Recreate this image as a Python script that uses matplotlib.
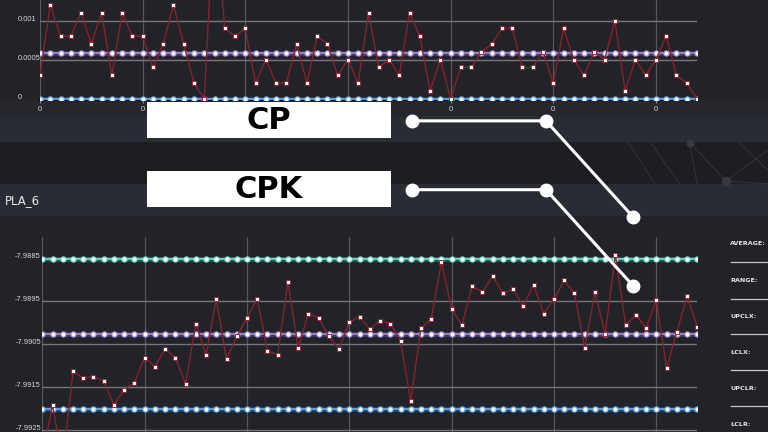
import matplotlib
matplotlib.use("Agg")
import matplotlib.pyplot as plt
from matplotlib.patches import Rectangle
from matplotlib.lines import Line2D
import matplotlib.transforms as mtransforms
import numpy as np

# ---- data ----
n_points = 65
top_values = [3, 12, 8, 8, 11, 7, 11, 3, 11, 8, 8, 4, 7, 12, 7, 2, 0, 25, 9, 8, 9, 2, 5, 2,
              2, 7, 2, 8, 7, 3, 5, 2, 11, 4,
              5, 3, 11, 8, 1, 5, 0, 4, 4, 6, 7, 9, 9, 4, 4, 6, 2, 9, 5, 3, 6, 5, 10, 1,
              5, 3, 5, 8, 3, 2, 0]
top_values = [v * 1e-4 for v in top_values]
top_center = 0.00059
top_lower = 0.0
top_yticks = [0, 0.0005, 0.001]
top_ytick_labels = ["0", "0.0005", "0.001"]
top_xticks = [0, 10, 20, 30, 40, 50, 60]
top_xtick_labels = ["0", "0", "0", "0", "0", "0", "0"]

pla6_values = [-7.99308, -7.99192, -7.99326, -7.99113, -7.99130, -7.99126, -7.99136, -7.99192,
               -7.99156, -7.99140, -7.99082, -7.99103, -7.99062, -7.99082, -7.99143, -7.99003,
               -7.99076, -7.98946, -7.99086, -7.99033, -7.98990, -7.98946, -7.99066, -7.99076,
               -7.98906, -7.99059, -7.98980, -7.98990, -7.99033, -7.99062, -7.99000, -7.98987,
               -7.99016, -7.98996,
               -7.99003, -7.99043, -7.99183, -7.99013, -7.98993, -7.98860, -7.98970, -7.99007,
               -7.98916, -7.98930, -7.98893, -7.98933, -7.98923, -7.98963, -7.98913, -7.98980,
               -7.98946, -7.98903, -7.98933, -7.99059, -7.98930, -7.99027, -7.98843, -7.99007,
               -7.98983, -7.99013, -7.98949, -7.99106, -7.99023, -7.98940, -7.99010]
pla6_upper = -7.98854
pla6_center = -7.99027
pla6_lower = -7.99201
pla6_yticks = [-7.9925, -7.9915, -7.9905, -7.9895, -7.9885]
pla6_ytick_labels = ["-7.9925", "-7.9915", "-7.9905", "-7.9895", "-7.9885"]

side_labels = ["AVERAGE:", "RANGE:", "UPCLX:", "LCLX:", "UPCLR:", "LCLR:"]

# ---- colours ----
panel = "#212328"
band = "#2a2c33"
dark = "#1d1e22"
red_line = "#86222f"
red_edge = "#9a2436"
purple = "#a084d6"
cyan = "#62d8c4"
blue = "#62a6ea"
grid_h = "#75777b"
grid_v = "#55575b"
tick_col = "#d8d8d8"
tick_font = "Liberation Sans"

W, H = 768, 432


def fx(x):
    return x / W


def fy(y):
    return 1 - y / H


fig = plt.figure(figsize=(7.68, 4.32), dpi=100, facecolor=panel)
lift = mtransforms.ScaledTranslation(0, 2.5 / 100, fig.dpi_scale_trans)

# background bands
for y0, y1, c in [(0, 100, panel), (100, 115.7, "#25272d"), (115.7, 141.7, band),
                  (141.7, 184.3, dark), (184.3, 215.7, band), (215.7, 432, panel)]:
    fig.patches.append(Rectangle((0, fy(y1)), 1, (y1 - y0) / H, transform=fig.transFigure,
                                 facecolor=c, edgecolor="none", zorder=-10))

# faint network decoration in the dark band
for (x0, y0, x1, y1) in [(628, 142, 655, 184), (650, 142, 680, 184), (690, 143, 697, 184),
                         (690, 143, 726, 181), (726, 181, 768, 150), (726, 181, 768, 184),
                         (738, 142, 768, 170)]:
    fig.add_artist(Line2D([fx(x0), fx(x1)], [fy(y0), fy(y1)], transform=fig.transFigure,
                          color="#36383e", lw=0.6, zorder=-5))
for (x, y, r) in [(690, 143, 5), (726, 181, 6)]:
    fig.add_artist(Line2D([fx(x)], [fy(y)], transform=fig.transFigure, marker="o",
                          markersize=r, color="#37393f", lw=0, zorder=-5))


def limit_line(ax, x, value, color):
    y = np.full(len(x), value)
    ax.plot(x, y, color=color, lw=3.5, alpha=0.25, zorder=2, solid_capstyle="butt")
    ax.plot(x, y, color=color, lw=1.3, zorder=3, marker="o", markersize=3.8,
            markerfacecolor="white", markeredgecolor=color, markeredgewidth=0.8)


def series(ax, x, y):
    ax.plot(x, y, color=red_line, lw=1.0, zorder=4, marker="s", markersize=3.0,
            markerfacecolor="white", markeredgecolor=red_edge, markeredgewidth=0.7)


def style(ax):
    ax.set_facecolor(panel)
    for s in ax.spines.values():
        s.set_visible(False)
    ax.yaxis.grid(True, color=grid_h, lw=1.0, zorder=0)
    ax.xaxis.grid(True, color=grid_v, lw=0.9, zorder=0)
    ax.set_axisbelow(True)


x = np.arange(n_points)

# ---- top chart ----
ax1 = fig.add_axes([fx(40), fy(100), (697 - 40) / W, 100 / H])
style(ax1)
limit_line(ax1, x, top_center, purple)
limit_line(ax1, x, top_lower, blue)
series(ax1, x, top_values)
ax1.set_xlim(0, n_points - 1)
ax1.set_ylim(-0.0000165, 0.001263)
ax1.set_yticks(top_yticks)
ax1.set_yticklabels(top_ytick_labels, family=tick_font)
ax1.set_xticks(top_xticks)
ax1.set_xticklabels(top_xtick_labels, family=tick_font)
ax1.tick_params(axis="y", length=0, pad=15.8, labelsize=5.4, labelcolor=tick_col)
ax1.tick_params(axis="x", length=2.5, color="#8a8a8a", pad=2, labelsize=5.4, labelcolor=tick_col)
for lab in ax1.get_yticklabels():
    lab.set_horizontalalignment("left")
    lab.set_verticalalignment("center_baseline")
    lab.set_transform(lab.get_transform() + lift)
ax1.spines["bottom"].set_visible(True)
ax1.spines["bottom"].set_color("#0e0f12")
ax1.spines["bottom"].set_linewidth(1.5)

# ---- bottom chart (PLA_6) ----
ax2 = fig.add_axes([fx(42.3), 0, (697.3 - 42.3) / W, (432 - 236.7) / H])
style(ax2)
limit_line(ax2, x, pla6_upper, cyan)
limit_line(ax2, x, pla6_center, purple)
limit_line(ax2, x, pla6_lower, blue)
series(ax2, x, pla6_values)
ax2.set_xlim(0, n_points - 1)
ax2.set_ylim(-7.992546, -7.988015)
ax2.set_yticks(pla6_yticks)
ax2.set_yticklabels(pla6_ytick_labels, family=tick_font)
ax2.set_xticks(top_xticks)
ax2.tick_params(axis="y", length=0, pad=1, labelsize=5.4, labelcolor=tick_col)
ax2.tick_params(axis="x", length=0, labelbottom=False)
for lab in ax2.get_yticklabels():
    lab.set_verticalalignment("center_baseline")
    lab.set_transform(lab.get_transform() + lift)

fig.text(fx(5), fy(201), "PLA_6", color="#e8e8e8", fontsize=8.5, va="center", ha="left")

# side labels of the statistics panel
label_y = [244, 281, 316, 352, 388, 424]
for lab, ly in zip(side_labels, label_y):
    fig.text(fx(730), fy(ly), lab, color="#e6e6e6", fontsize=4.6, fontweight="bold",
             va="center", ha="left")
for ly in [262, 298.7, 334, 370, 406]:
    fig.add_artist(Line2D([fx(731), 1], [fy(ly), fy(ly)], transform=fig.transFigure,
                          color="#c8c8c8", lw=0.9))

# ---- CP / CPK callouts ----
for name, y0, y1 in [("CP", 102, 137.7), ("CPK", 170.7, 206.7)]:
    fig.patches.append(Rectangle((fx(147), fy(y1)), (391 - 147) / W, (y1 - y0) / H,
                                 transform=fig.transFigure, facecolor="white",
                                 edgecolor="none", zorder=20))
    ym = (y0 + y1) / 2
    fig.text(fx(269), fy(ym + 1), name, color="black", fontsize=22, fontweight="bold",
             family="DejaVu Sans", ha="center", va="center", zorder=21)
    xs = [411.5, 546, 633]
    ys = [ym + 1, ym + 1, ym + 97]
    fig.add_artist(Line2D([fx(v) for v in xs], [fy(v) for v in ys], transform=fig.transFigure,
                          color="white", lw=2.2, zorder=20))
    fig.add_artist(Line2D([fx(v) for v in xs], [fy(v) for v in ys], transform=fig.transFigure,
                          color="white", lw=0, marker="o", markersize=9, zorder=21))

fig.savefig("out.png", dpi=100, facecolor=fig.get_facecolor())
